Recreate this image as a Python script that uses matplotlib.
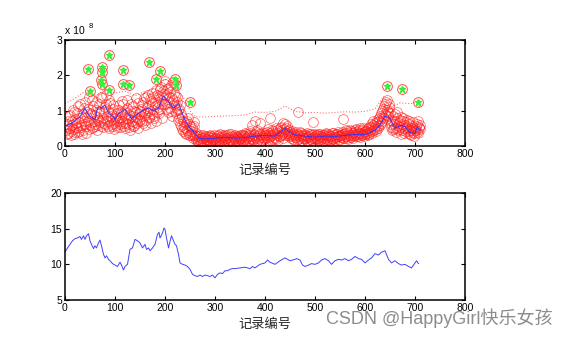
import matplotlib
matplotlib.use("Agg")
import matplotlib.pyplot as plt

plt.rcParams['font.family'] = ['Liberation Sans', 'Noto Sans CJK SC', 'DejaVu Sans']

# ---------------- data (top panel, values in units of 1e8) ----------------
# records at odd record numbers 1, 3, 5, ...
circle_y = [
    0.45,0.62,0.38,0.85,0.52,0.30,0.71,0.48,0.95,0.40,0.66,0.55,1.12,0.42,0.78,0.60,0.35,0.90,0.70,1.25,0.58,0.82,1.05,0.47,0.93,
    0.68,1.30,0.55,0.88,0.62,1.02,0.45,0.75,1.18,0.92,0.58,1.35,0.80,0.66,1.10,1.45,0.72,0.98,0.52,1.22,0.85,0.63,1.05,0.48,0.78,
    0.60,0.92,0.70,1.15,0.55,0.82,1.28,0.65,0.95,0.50,0.78,1.08,0.62,0.88,0.45,1.20,0.72,0.58,0.98,0.68,1.35,0.80,0.52,0.90,0.75,
    1.05,0.70,1.25,0.88,0.60,1.40,0.95,1.12,0.78,1.32,0.65,1.50,1.02,0.85,1.22,0.72,1.45,1.10,0.92,1.62,1.30,0.80,1.55,1.18,1.75,
    1.20,1.60,0.95,1.40,1.08,1.72,0.85,1.30,1.50,0.98,1.15,1.38,0.75,1.05,0.62,0.90,0.48,0.72,0.55,0.38,0.65,0.45,0.80,0.32,0.58,
    0.42,0.55,0.30,0.68,0.25,0.38,0.20,0.15,0.28,0.12,0.22,0.18,0.30,0.14,0.25,0.20,0.10,0.27,0.16,0.32,0.22,0.13,0.26,0.19,0.24,
    0.15,0.28,0.20,0.12,0.33,0.22,0.17,0.26,0.10,0.30,0.19,0.24,0.14,0.35,0.21,0.16,0.28,0.11,0.23,0.31,0.18,0.26,0.13,0.29,0.20,
    0.22,0.32,0.15,0.27,0.38,0.19,0.25,0.12,0.30,0.42,0.20,0.28,0.16,0.35,0.70,0.24,0.45,0.18,0.33,0.65,0.26,0.14,0.38,0.22,0.30,
    0.25,0.40,0.18,0.32,0.78,0.28,0.45,0.20,0.36,0.24,0.50,0.30,0.16,0.42,0.27,0.55,0.35,0.22,0.48,0.62,0.38,0.58,0.30,0.45,0.33,
    0.28,0.42,0.20,0.35,0.25,0.40,0.18,0.96,0.30,0.22,0.38,0.15,0.27,0.33,0.19,0.24,0.36,0.12,0.29,0.21,0.34,0.17,0.68,0.26,0.20,
    0.23,0.31,0.16,0.27,0.35,0.19,0.25,0.13,0.30,0.22,0.38,0.18,0.26,0.32,0.15,0.28,0.21,0.36,0.24,0.17,0.33,0.27,0.40,0.20,0.29,
    0.25,0.34,0.76,0.22,0.38,0.28,0.42,0.19,0.32,0.45,0.26,0.36,0.23,0.40,0.30,0.48,0.27,0.35,0.44,0.25,0.38,0.32,0.50,0.29,0.42,
    0.35,0.48,0.30,0.55,0.40,0.62,0.38,0.72,0.45,0.58,0.42,0.68,0.52,0.80,0.60,0.92,0.70,1.05,0.78,1.20,0.88,1.30,0.95,1.10,0.75,
    0.62,0.45,0.85,0.52,0.70,0.40,0.95,0.58,0.48,0.75,0.35,0.62,0.80,0.50,0.42,0.68,0.55,0.38,0.72,0.45,0.32,0.58,0.40,0.28,0.50,
    0.45,0.62,0.38,0.55,0.48,
]
# records at even record numbers 2, 4, 6, ...
circle_y2 = [
    0.58,0.35,0.72,0.50,0.88,0.42,0.60,1.02,0.33,0.76,0.52,0.92,0.40,0.68,1.18,0.55,0.82,0.46,1.08,0.62,0.38,0.96,0.72,1.40,0.60,
    0.90,0.50,1.12,0.72,0.58,1.25,0.82,0.60,0.98,0.68,1.40,0.74,0.55,0.95,0.62,1.20,0.85,0.58,1.30,0.70,0.92,0.56,1.15,0.66,0.86,
    0.72,0.55,1.02,0.80,0.62,0.95,0.70,1.18,0.58,0.88,0.66,1.30,0.76,0.54,1.00,0.84,0.62,1.12,0.56,0.82,0.95,0.64,1.22,0.70,1.00,
    0.85,1.15,0.65,1.35,0.92,0.75,1.08,1.45,0.82,1.00,1.28,0.90,1.38,0.78,1.12,1.58,0.96,1.25,1.42,1.05,1.68,1.20,1.48,1.35,1.85,
    1.45,1.05,1.65,1.25,1.52,0.98,1.35,1.80,1.18,1.42,0.92,1.25,1.02,0.78,1.15,0.58,0.82,0.42,0.68,0.50,0.35,0.72,0.40,0.62,0.30,
    0.35,0.48,0.22,0.58,0.32,0.18,0.28,0.12,0.20,0.30,0.15,0.24,0.10,0.22,0.28,0.14,0.20,0.17,0.25,0.12,0.28,0.18,0.21,0.30,0.15,
    0.22,0.12,0.30,0.18,0.25,0.14,0.32,0.20,0.27,0.16,0.22,0.30,0.12,0.25,0.18,0.33,0.15,0.26,0.20,0.14,0.29,0.22,0.17,0.24,0.31,
    0.18,0.26,0.30,0.20,0.14,0.33,0.22,0.28,0.17,0.36,0.24,0.60,0.19,0.30,0.25,0.40,0.15,0.28,0.22,0.35,0.18,0.32,0.26,0.20,0.36,
    0.30,0.22,0.48,0.26,0.38,0.18,0.32,0.42,0.25,0.35,0.20,0.46,0.38,0.28,0.52,0.32,0.45,0.66,0.40,0.30,0.52,0.42,0.36,0.28,0.40,
    0.22,0.32,0.38,0.18,0.30,0.26,0.34,0.20,0.28,0.40,0.16,0.30,0.24,0.22,0.32,0.28,0.14,0.26,0.35,0.19,0.24,0.30,0.22,0.33,0.27,
    0.30,0.20,0.34,0.22,0.18,0.29,0.32,0.24,0.16,0.35,0.27,0.21,0.33,0.19,0.28,0.24,0.37,0.20,0.30,0.26,0.22,0.34,0.28,0.18,0.32,
    0.30,0.40,0.24,0.33,0.28,0.46,0.22,0.36,0.30,0.26,0.42,0.32,0.38,0.27,0.45,0.33,0.40,0.28,0.36,0.52,0.30,0.44,0.35,0.40,0.33,
    0.42,0.38,0.50,0.33,0.46,0.55,0.42,0.60,0.50,0.65,0.48,0.75,0.58,0.70,0.85,0.66,0.98,0.82,1.12,0.90,1.25,1.02,0.85,1.18,0.92,
    0.55,0.72,0.48,0.62,0.90,0.52,0.78,0.44,0.66,0.55,0.82,0.46,0.70,0.38,0.60,0.52,0.75,0.42,0.62,0.35,0.52,0.46,0.68,0.36,0.44,
    0.58,0.40,0.70,0.52,0.60,
]
circle_x = list(range(1, 1 + 2 * len(circle_y), 2))
circle_x2 = list(range(2, 2 + 2 * len(circle_y2), 2))

mean_x = [0,13,30,40,47,60,65,73,80,87,97,100,107,120,133,143,157,167,177,187,197,207,217,227,237,247,257,267,
          280,300,320,340,360,380,400,420,440,450,460,480,500,520,540,560,580,600,620,630,640,650,660,670,680,690,700,705,710]
mean_y = [0.55,0.64,0.83,1.07,0.88,0.74,1.07,1.09,1.16,0.92,0.83,0.74,0.92,1.04,0.78,0.88,1.02,1.07,1.00,1.07,1.42,1.25,1.07,1.21,0.83,0.55,0.41,0.22,
          0.20,0.22,0.25,0.22,0.24,0.28,0.30,0.28,0.50,0.38,0.32,0.28,0.25,0.28,0.27,0.30,0.33,0.32,0.45,0.60,0.85,0.78,0.50,0.58,0.55,0.38,0.35,0.55,0.42]

upper_x = [0,20,40,60,80,100,120,140,160,180,200,220,240,250,260,280,300,320,340,360,380,400,420,440,
           460,480,500,520,540,560,580,600,620,637,650,670,690,700,710]
upper_y = [1.20,1.35,1.55,1.40,1.60,1.50,1.55,1.42,1.55,1.62,1.90,1.72,1.30,1.00,0.83,0.82,0.84,0.85,0.86,0.88,0.96,0.95,0.98,1.13,
           0.98,0.94,0.95,0.93,0.95,0.97,0.96,0.98,1.05,1.40,1.08,1.22,1.20,1.22,1.10]

outlier_x = [45,49,73,73,72,73,88,88,115,115,127,168,189,182,219,221,250,643,673,705]
outlier_y = [2.17,1.56,2.24,2.10,1.87,1.75,2.58,1.59,2.15,1.75,1.72,2.39,2.12,1.90,1.89,1.74,1.25,1.71,1.60,1.25]

# ---------------- data (bottom panel) ----------------
bot_x = [0,5,10,15,20,25,30,33,37,40,43,47,50,53,57,60,63,67,70,73,77,80,83,87,90,95,100,105,110,113,117,120,125,
         130,135,140,145,150,155,160,163,167,170,175,180,185,188,190,195,198,200,203,207,210,213,217,220,223,227,
         230,235,240,245,250,255,260,265,270,275,280,285,290,295,300,305,310,315,320,325,330,335,340,350,360,370,
         375,380,390,400,405,410,420,430,440,445,450,460,463,470,475,480,487,493,500,507,513,520,527,533,540,547,
         553,560,567,573,580,587,593,600,607,613,620,627,633,640,643,647,653,660,667,673,680,687,693,700,703,707]
bot_y = [11.7,12.3,12.8,13.3,13.6,13.7,13.9,13.5,14.0,13.5,14.0,14.3,13.3,12.8,12.2,12.6,12.3,13.0,13.4,12.6,11.4,10.9,11.2,10.7,10.5,10.1,9.9,9.7,10.3,9.9,9.2,9.7,10.0,
         12.1,12.3,13.5,13.3,13.0,12.3,12.8,12.1,12.3,11.9,12.3,12.8,14.2,14.5,13.7,14.4,15.1,14.9,13.7,12.3,13.2,14.0,13.3,12.8,12.6,11.4,
         10.2,10.0,9.9,9.7,9.3,8.6,8.4,8.3,8.5,8.3,8.5,8.4,8.3,8.5,8.1,8.6,8.8,8.7,9.1,9.1,9.3,9.4,9.4,9.5,9.6,9.4,
         9.7,9.5,10.0,10.2,10.6,10.3,10.0,10.5,10.9,10.7,10.5,10.7,10.8,10.6,9.9,9.7,9.9,10.1,10.0,10.2,10.6,10.8,10.5,10.0,10.5,10.7,
         10.6,10.8,10.5,10.7,11.1,10.8,10.7,10.2,10.6,10.9,11.5,11.3,11.7,11.9,11.4,10.7,10.2,10.5,10.1,9.9,10.0,9.7,9.5,10.2,10.5,10.1]

xticks = [0,100,200,300,400,500,600,700,800]
top_yticks = [0,1,2,3]
bot_yticks = [5,10,15,20]
xlabel = '记录编号'

# ---------------- figure ----------------
fig = plt.figure(figsize=(5.69, 3.39), dpi=100)
ax1 = fig.add_axes([65/569, 1-146/339, 400/569, 106/339])
ax2 = fig.add_axes([65/569, 1-300/339, 400/569, 107/339])

ax1.plot(upper_x, upper_y, linestyle=':', color=(1.0, 0.45, 0.45), lw=0.8, zorder=1)
circ_kw = dict(linestyle='none', marker='o', ms=7, mfc='none', mec=(1.0, 0.1, 0.1), mew=0.5, alpha=0.7, zorder=2)
ax1.plot(circle_x, circle_y, **circ_kw)
ax1.plot(circle_x2, circle_y2, **circ_kw)
ax1.plot(mean_x, mean_y, color=(0.2, 0.2, 1.0), lw=0.7, zorder=3)
ax1.plot(outlier_x, outlier_y, linestyle='none', marker='o', ms=7, mfc='none',
         mec=(1.0, 0.3, 0.3), mew=0.7, zorder=4)
ax1.plot(outlier_x, outlier_y, linestyle='none', marker='*', ms=5, color=(0.2, 0.95, 0.2), zorder=5)

ax2.plot(bot_x, bot_y, color=(0.25, 0.25, 1.0), lw=0.7)

for ax, yt, ylim in ((ax1, top_yticks, (0, 3)), (ax2, bot_yticks, (5, 20))):
    ax.set_xlim(0, 800)
    ax.set_ylim(*ylim)
    ax.set_xticks(xticks)
    ax.set_yticks(yt)
    ax.tick_params(direction='in', top=True, right=True, length=3, width=0.8,
                   labelsize=7.5, pad=2)
    for s in ax.spines.values():
        s.set_linewidth(1.1)
    ax.set_xlabel(xlabel, fontsize=9.5, color=(0.15, 0.15, 0.15), labelpad=4)

ax1.text(0, 1.04, 'x 10', transform=ax1.transAxes, fontsize=7.5, ha='left', va='bottom')
ax1.text(0.058, 1.09, '8', transform=ax1.transAxes, fontsize=5.5, ha='left', va='bottom')

fig.text(553/569, 1-324/339, 'CSDN @HappyGirl快乐女孩', fontsize=13, color=(0.55, 0.55, 0.55),
         ha='right', va='baseline', family=['Liberation Sans', 'Noto Sans CJK SC'])

fig.savefig('out.png', dpi=100)
